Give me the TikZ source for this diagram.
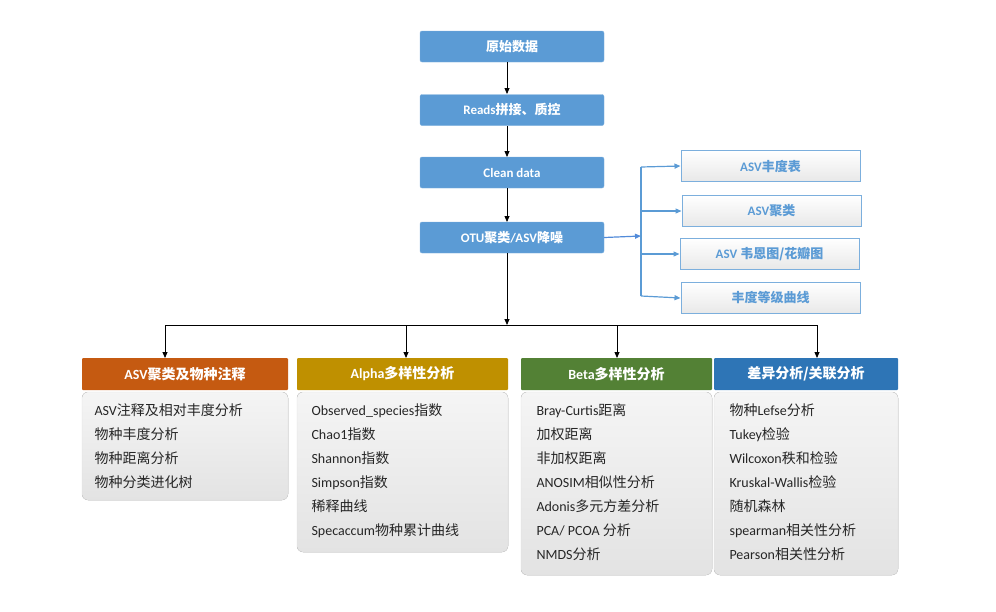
\documentclass[tikz,border=0pt]{standalone}
\usepackage{fontspec}
\setmainfont{Carlito}
\newfontfamily\cjk{Noto Sans CJK SC}
\newcommand{\zh}[1]{{\cjk #1}}
\usetikzlibrary{arrows.meta,shadows}
\definecolor{topblue}{HTML}{5B9BD5}
\definecolor{hOrange}{HTML}{C55A11}
\definecolor{hGold}{HTML}{BF9000}
\definecolor{hGreen}{HTML}{538135}
\definecolor{hBlue}{HTML}{2E75B6}
\begin{document}
\begin{tikzpicture}[x=1pt,y=-1pt,
  top/.style={draw=topblue!80!white,fill=topblue,rounded corners=2pt,text=white,font=\fontsize{13}{15}\selectfont\bfseries,minimum width=184pt,minimum height=31pt,inner sep=0pt},
  side/.style={draw=topblue!80,line width=1pt,top color=white,bottom color=gray!18,text=topblue,font=\fontsize{13}{15}\selectfont\bfseries,minimum width=179pt,minimum height=31pt,inner sep=0pt},
  hdr/.style={fill=#1,text=white,font=\fontsize{14}{16}\selectfont\bfseries,minimum height=32pt,inner sep=0pt,rounded corners=1pt},
  body/.style={draw=gray!25,rounded corners=6pt,top color=gray!8,bottom color=gray!22,align=left,anchor=north west,inner sep=0pt},
  arr/.style={-{Triangle[length=6pt,width=5pt]},line width=0.8pt},
  barr/.style={-{Triangle[length=6pt,width=5pt]},line width=1.2pt,draw=topblue!90!blue},
  txt/.style={font=\fontsize{14}{24}\selectfont,align=left,anchor=north west,text=black!85}]
\useasboundingbox (0,0) rectangle (996,611);
\node[top] (a) at (512,46.5) {\zh{原始数据}};
\node[top] (b) at (512,110) {Reads\zh{拼接、质控}};
\node[top] (c) at (512,172.5) {Clean data};
\node[top] (d) at (512,237.5) {OTU\zh{聚类}/ASV\zh{降噪}};
\draw[arr] (507,62) -- (507,94);
\draw[arr] (507,126) -- (507,157);
\draw[arr] (507,188) -- (507,222);
\node[side] (s1) at (770.5,166) {ASV\zh{丰度表}};
\node[side] (s2) at (771.5,211) {ASV\zh{聚类}};
\node[side] (s3) at (769.5,254) {ASV \zh{韦恩图/花瓣图}};
\node[side] (s4) at (770.5,298) {\zh{丰度等级曲线}};
\coordinate (j) at (641,236);
\draw[barr] (d.east) -- (j);
\draw[line width=1.2pt,draw=topblue] (641,167) -- (641,296);
\draw[barr,draw=topblue] (641,167) -- (s1.west);
\draw[barr,draw=topblue] (641,211) -- (s2.west);
\draw[barr,draw=topblue] (641,254) -- (s3.west);
\draw[barr,draw=topblue] (641,296) -- (s4.west);
% bus
\coordinate (bus) at (507,325);
\draw[arr] (507,253) -- (bus);
\draw[line width=0.8pt] (165,325) -- (817,325);
\node[hdr=hOrange,minimum width=206pt] (h1) at (185,374) {ASV\zh{聚类及物种注释}};
\node[hdr=hGold,minimum width=211pt] (h2) at (402.5,374) {Alpha\zh{多样性分析}};
\node[hdr=hGreen,minimum width=191pt] (h3) at (616.5,374) {Beta\zh{多样性分析}};
\node[hdr=hBlue,minimum width=184pt] (h4) at (806,374) {\zh{差异分析/关联分析}};
\draw[arr] (165,325) -- (165,358);
\draw[arr] (406,325) -- (406,358);
\draw[arr] (617,325) -- (617,358);
\draw[arr] (817,325) -- (817,358);
\filldraw[body] (82,392) rectangle (288,500);
\filldraw[body] (297,392) rectangle (508,552);
\filldraw[body] (521,392) rectangle (712,575);
\filldraw[body] (714,392) rectangle (898,575);
\node[txt] (t1) at (91,400) {ASV\zh{注释及相对丰度分析}\\ \zh{物种丰度分析}\\ \zh{物种距离分析}\\ \zh{物种分类进化树}};
\node[txt] (t2) at (308,400) {Observed\_species\zh{指数}\\ Chao1\zh{指数}\\ Shannon\zh{指数}\\ Simpson\zh{指数}\\ \zh{稀释曲线}\\ Specaccum\zh{物种累计曲线}};
\node[txt] (t3) at (533,400) {Bray-Curtis\zh{距离}\\ \zh{加权距离}\\ \zh{非加权距离}\\ ANOSIM\zh{相似性分析}\\ Adonis\zh{多元方差分析}\\ PCA/ PCOA \zh{分析}\\ NMDS\zh{分析}};
\node[txt] (t4) at (726,400) {\zh{物种}Lefse\zh{分析}\\ Tukey\zh{检验}\\ Wilcoxon\zh{秩和检验}\\ Kruskal-Wallis\zh{检验}\\ \zh{随机森林}\\ spearman\zh{相关性分析}\\ Pearson\zh{相关性分析}};
\end{tikzpicture}
\end{document}
